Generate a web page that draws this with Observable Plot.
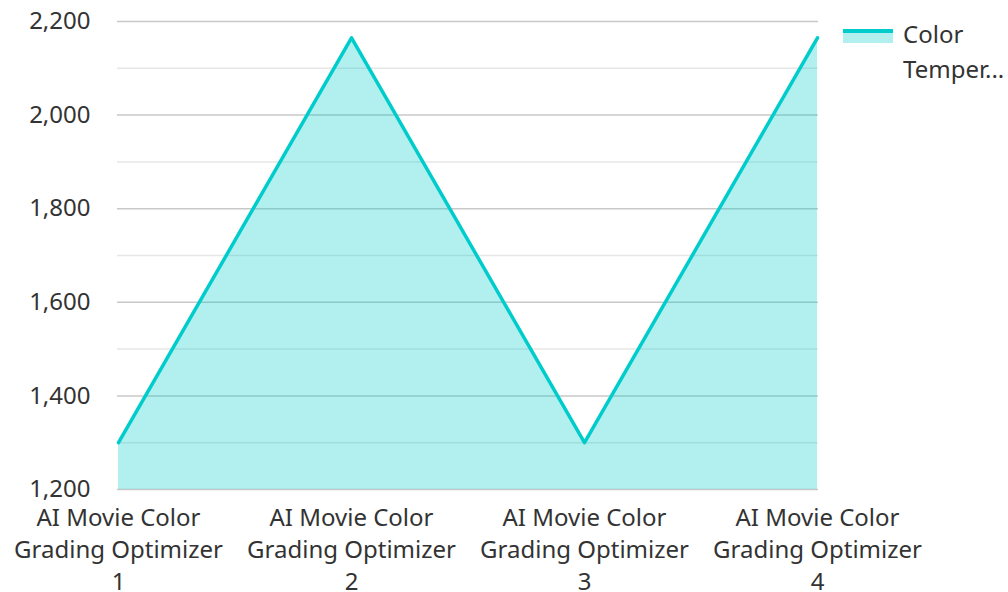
<!DOCTYPE html>
<html>
<head>
<meta charset="utf-8">
<script src="https://cdn.jsdelivr.net/npm/d3@7"></script>
<script src="https://cdn.jsdelivr.net/npm/@observablehq/plot@0.6"></script>
<style>
  html, body { margin: 0; padding: 0; background: #fff; }
  #wrap { position: relative; width: 1008px; height: 592px; font-family: "Noto Sans", sans-serif; }
  #legend { position: absolute; left: 843px; top: 16px; display: flex; align-items: flex-start; color: #333; font-size: 24px; line-height: 35px; }
  #legend .sw { width: 50px; height: 14px; margin-top: 13px; margin-right: 10px; background: rgba(0,204,204,0.3); border-top: 4px solid #00cccc; box-sizing: border-box; }
</style>
</head>
<body>
<div id="wrap">
  <div id="chart"></div>
  <div id="legend"><div class="sw"></div><div id="legendText"></div></div>
</div>
<script>
const categories = ["AI Movie Color Grading Optimizer 1", "AI Movie Color Grading Optimizer 2", "AI Movie Color Grading Optimizer 3", "AI Movie Color Grading Optimizer 4"];
const values = [1300, 2165, 1300, 2165];
const seriesName = "Color Temper...";
const majorTicks = [1200, 1400, 1600, 1800, 2000, 2200];
const minorTicks = [1300, 1500, 1700, 1900, 2100];

document.getElementById("legendText").innerHTML = "Color<br>Temper...";

const data = categories.map((c, i) => ({cat: c, v: values[i]}));
const fmt = d3.format(",");

const chart = Plot.plot({
  width: 1008,
  height: 592,
  marginLeft: 117,
  marginRight: 190,
  marginTop: 21,
  marginBottom: 103,
  style: {fontFamily: "Noto Sans", fontSize: "24px", color: "#333", background: "#fff"},
  x: {type: "point", domain: categories, padding: 0, label: null},
  y: {domain: [1200, 2200], label: null},
  marks: [
    Plot.ruleY(minorTicks, {stroke: "#e6e6e6", strokeWidth: 1.5}),
    Plot.ruleY(majorTicks, {stroke: "#c8c8c8", strokeWidth: 1.5}),
    Plot.areaY(data, {x: "cat", y1: 1200, y2: "v", fill: "#00cccc", fillOpacity: 0.3}),
    Plot.lineY(data, {x: "cat", y: "v", stroke: "#00cccc", strokeWidth: 3.5}),
    Plot.axisY(majorTicks, {tickSize: 0, tickPadding: 27, tickFormat: fmt, fontSize: 24, fill: "#333", label: null}),
    Plot.axisX({tickSize: 0, tickPadding: 14, lineHeight: 1.333, fontSize: 24, fill: "#333", label: null,
      tickFormat: d => d.replace(/^(AI Movie Color) (Grading Optimizer) (\d+)$/, "$1\n$2\n$3")})
  ]
});
document.getElementById("chart").appendChild(chart);
</script>
</body>
</html>
